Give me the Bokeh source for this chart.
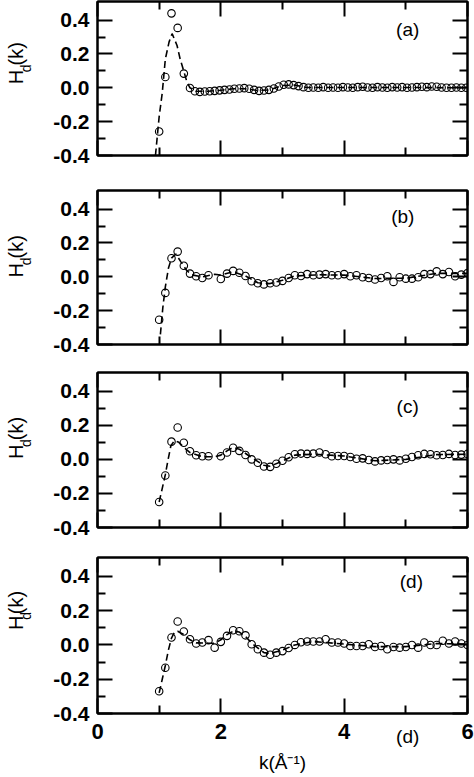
import math
from bokeh.plotting import figure
from bokeh.models import (Range1d, LinearAxis, FixedTicker, Label, NumeralTickFormatter,
                          CustomJSTickFormatter)
from bokeh.layouts import column, row
from bokeh.embed import file_html
from bokeh.resources import INLINE

NAN = float("nan")
FONT = "Liberation Sans"

# ---------------- data ----------------
K_A = [1.0, 1.1, 1.2, 1.3, 1.4, 1.5,
       1.58, 1.66, 1.74, 1.82, 1.90, 1.98, 2.06, 2.14, 2.22, 2.30, 2.38, 2.46, 2.54, 2.62,
       2.70, 2.78, 2.86, 2.94, 3.02, 3.10, 3.18, 3.26, 3.34, 3.42, 3.50, 3.58, 3.66, 3.74,
       3.82, 3.90, 3.98, 4.06, 4.14, 4.22, 4.30, 4.38, 4.46, 4.54, 4.62, 4.70, 4.78, 4.86,
       4.94, 5.02, 5.10, 5.18, 5.26, 5.34, 5.42, 5.50, 5.58, 5.66, 5.74, 5.82, 5.90, 5.98]
H_A = [-0.258, 0.064, 0.44, 0.354, 0.084, -0.001,
       -0.020, -0.024, -0.022, -0.020, -0.018, -0.015, -0.012, -0.010, -0.006, -0.004, -0.002, -0.006, -0.012, -0.018,
       -0.016, -0.012, -0.004, 0.008, 0.018, 0.020, 0.016, 0.010, 0.004, 0.000, 0.002, 0.000, 0.004, 0.000,
       0.002, 0.000, 0.004, 0.002, 0.000, 0.004, 0.006, 0.002, 0.000, 0.004, 0.002, 0.000, 0.004, 0.002,
       0.004, 0.000, 0.002, 0.004, 0.006, 0.004, 0.008, 0.006, 0.002, 0.000, 0.000, 0.002, 0.000, 0.000]

K = [1.0, 1.1, 1.2, 1.3, 1.4, 1.5, 1.6, 1.7, 1.8, 1.9,
     2.0, 2.1, 2.2, 2.3, 2.4, 2.5, 2.6, 2.7, 2.8, 2.9,
     3.0, 3.1, 3.2, 3.3, 3.4, 3.5, 3.6, 3.7, 3.8, 3.9,
     4.0, 4.1, 4.2, 4.3, 4.4, 4.5, 4.6, 4.7, 4.8, 4.9,
     5.0, 5.1, 5.2, 5.3, 5.4, 5.5, 5.6, 5.7, 5.8, 5.9, 6.0]
H_B = [-0.254, -0.095, 0.110, 0.149, 0.065, 0.019, 0.003, -0.007, 0.009, NAN,
       -0.013, 0.019, 0.035, 0.024, 0.005, -0.026, -0.038, -0.045, -0.038, -0.034,
       -0.024, -0.007, 0.009, 0.005, 0.016, 0.009, 0.013, 0.016, 0.009, 0.009,
       0.016, 0.003, 0.009, -0.003, -0.007, -0.016, -0.007, 0.003, -0.030, -0.003,
       -0.011, -0.011, -0.003, 0.016, 0.016, 0.032, 0.016, 0.028, 0.003, 0.013, 0.022]
H_C = [-0.250, -0.095, 0.104, 0.187, 0.098, 0.048, 0.024, 0.018, 0.018, NAN,
       0.018, 0.040, 0.068, 0.050, 0.026, 0.000, -0.020, -0.042, -0.044, -0.026,
       -0.008, 0.012, 0.030, 0.034, 0.032, 0.034, 0.040, 0.030, 0.018, 0.020,
       0.020, 0.014, 0.004, 0.006, -0.004, -0.012, -0.006, -0.004, 0.000, -0.006,
       0.004, 0.014, 0.024, 0.032, 0.030, 0.024, 0.026, 0.032, 0.026, 0.028, 0.032]
H_D = [-0.270, -0.133, 0.043, 0.137, 0.078, 0.033, 0.008, 0.014, 0.028, -0.016,
       0.018, 0.053, 0.086, 0.080, 0.056, 0.004, -0.025, -0.045, -0.057, -0.045,
       -0.036, -0.018, 0.000, 0.016, 0.020, 0.020, 0.020, 0.033, 0.014, 0.014,
       0.008, -0.006, -0.006, -0.006, 0.004, -0.012, -0.006, -0.025, -0.012, -0.016,
       -0.012, 0.000, -0.016, 0.014, 0.000, 0.000, 0.024, 0.008, 0.020, 0.008, 0.000]

# theory (dashed) curves
TA_K = [0.94, 1.0, 1.05, 1.1, 1.16, 1.21, 1.29, 1.34, 1.39, 1.45, 1.5, 1.6, 1.8, 2.0, 2.2, 2.4,
        2.6, 2.8, 3.0, 3.2, 3.4, 3.6, 4.0, 5.0, 6.0]
TA_V = [-0.4, -0.17, -0.03, 0.17, 0.27, 0.32, 0.25, 0.17, 0.11, 0.035, 0.0, -0.02, -0.02, -0.014,
        -0.006, -0.006, -0.016, -0.012, 0.014, 0.016, 0.002, 0.002, 0.002, 0.002, 0.0]
TB_K = [1.02, 1.06, 1.1, 1.15, 1.2, 1.27, 1.35, 1.45, 1.55, 1.7, 1.9, 2.0, 2.2, 2.4, 2.6, 2.8,
        3.0, 3.2, 3.6, 4.0, 4.5, 5.0, 5.5, 6.0]
TB_V = [-0.34, -0.18, -0.06, 0.05, 0.11, 0.135, 0.09, 0.035, 0.01, 0.0, 0.015, 0.01, 0.03, 0.005,
        -0.035, -0.04, -0.02, 0.005, 0.012, 0.01, -0.01, -0.008, 0.02, 0.02]
TC_K = [1.0, 1.05, 1.1, 1.14, 1.19, 1.25, 1.32, 1.4, 1.5, 1.7, 1.9, 2.0, 2.1, 2.2, 2.3, 2.5, 2.7,
        2.8, 3.0, 3.2, 3.5, 4.0, 4.5, 5.0, 5.5, 6.0]
TC_V = [-0.25, -0.17, -0.09, -0.01, 0.08, 0.11, 0.1, 0.07, 0.04, 0.015, 0.015, 0.025, 0.05, 0.07,
        0.06, 0.01, -0.035, -0.04, -0.01, 0.025, 0.03, 0.02, -0.008, 0.0, 0.028, 0.03]
TD_K = [1.0, 1.05, 1.1, 1.15, 1.2, 1.25, 1.3, 1.4, 1.5, 1.6, 1.8, 1.9, 2.0, 2.1, 2.2, 2.3, 2.4,
        2.5, 2.7, 2.8, 3.0, 3.2, 3.5, 4.0, 4.5, 5.0, 5.5, 6.0]
TD_V = [-0.28, -0.2, -0.12, -0.03, 0.04, 0.075, 0.08, 0.06, 0.03, 0.012, 0.01, 0.01, 0.03, 0.06,
        0.08, 0.075, 0.05, 0.01, -0.045, -0.05, -0.03, 0.0, 0.02, 0.005, -0.01, -0.01, 0.008, 0.005]

X_TICKS = [0, 2, 4, 6]
X_MINOR = [1, 3, 5]
Y_TICKS = [-0.4, -0.2, 0.0, 0.2, 0.4]
Y_MINOR = [-0.3, -0.1, 0.1, 0.3]
TAGS = ["(a)", "(b)", "(c)", "(d)"]
BOTTOM_TAG = "(d)"
BOTTOM_TAG_K = 5.03
X_LABEL = "k(Å\u207B\u00B9)"

Y_LO, Y_HI = -0.4, 0.51
LAB_W = 40
MAIN_W = 474 - LAB_W
BLANK = CustomJSTickFormatter(code="return ''")


def style_axis(ax, ticks, minor, show_labels, fmt, size):
    ax.ticker = FixedTicker(ticks=ticks, minor_ticks=minor)
    ax.axis_line_width = 2
    ax.axis_line_color = "black"
    ax.major_tick_line_width = 2
    ax.minor_tick_line_width = 2
    ax.major_tick_line_color = "black"
    ax.minor_tick_line_color = "black"
    ax.major_tick_in = 15
    ax.major_tick_out = 0
    ax.minor_tick_in = 8
    ax.minor_tick_out = 0
    if show_labels:
        ax.formatter = NumeralTickFormatter(format=fmt)
        ax.major_label_text_font = FONT
        ax.major_label_text_font_size = size
        ax.major_label_text_font_style = "bold"
        ax.major_label_text_color = "black"
    else:
        ax.formatter = BLANK
        ax.major_label_standoff = 0


def make_label_fig(height, top, bottom):
    f = figure(width=LAB_W, height=height, x_range=Range1d(0, LAB_W), y_range=Range1d(0, height),
               output_backend="svg", toolbar_location=None, min_border=0,
               x_axis_location=None, y_axis_location=None)
    f.xgrid.visible = False
    f.ygrid.visible = False
    f.outline_line_color = None
    fh = height - top - bottom
    zero_from_top = top + fh * (Y_HI / (Y_HI - Y_LO))
    h_start = height - (zero_from_top + 12.5)
    f.add_layout(Label(x=15, y=h_start, text="H", angle=math.pi / 2, text_font=FONT,
                       text_font_size="20px", text_align="left", text_baseline="alphabetic",
                       text_color="black"))
    f.add_layout(Label(x=25, y=h_start + 14.5, text="d", angle=math.pi / 2, text_font=FONT,
                       text_font_size="14px", text_align="left", text_baseline="alphabetic",
                       text_color="black"))
    f.add_layout(Label(x=15, y=h_start + 22.5, text="(k)", angle=math.pi / 2, text_font=FONT,
                       text_font_size="20px", text_align="left", text_baseline="alphabetic",
                       text_color="black"))
    return f


def make_panel(k, h, tk, tv, tag, tag_x, tag_y, height, top, bottom, last):
    p = figure(width=MAIN_W, height=height, x_range=Range1d(0, 6), y_range=Range1d(Y_LO, Y_HI),
               output_backend="svg", toolbar_location=None,
               min_border_left=97 - LAB_W, min_border_right=7, min_border_top=top,
               min_border_bottom=bottom, x_axis_location=None, y_axis_location=None)
    p.xgrid.visible = False
    p.ygrid.visible = False
    p.outline_line_color = "black"
    p.outline_line_width = 2
    p.background_fill_color = "white"
    p.border_fill_color = "white"

    left = LinearAxis()
    style_axis(left, Y_TICKS, Y_MINOR, True, "0.0", "21px")
    left.major_label_standoff = 8
    right = LinearAxis()
    style_axis(right, Y_TICKS, Y_MINOR, False, "0.0", "0px")
    above = LinearAxis()
    style_axis(above, X_TICKS, X_MINOR, False, "0", "0px")
    below = LinearAxis()
    style_axis(below, X_TICKS, X_MINOR, last, "0", "22px")
    if last:
        below.major_label_standoff = 10
    p.add_layout(left, "left")
    p.add_layout(right, "right")
    p.add_layout(above, "above")
    p.add_layout(below, "below")

    if last:
        extra = LinearAxis()
        extra.ticker = FixedTicker(ticks=[BOTTOM_TAG_K])
        extra.formatter = CustomJSTickFormatter(code="return '%s'" % BOTTOM_TAG)
        extra.axis_line_color = None
        extra.major_tick_line_color = None
        extra.minor_tick_line_color = None
        extra.major_tick_in = 0
        extra.major_tick_out = 0
        extra.minor_tick_in = 0
        extra.minor_tick_out = 0
        extra.major_label_standoff = -16
        extra.major_label_text_font = FONT
        extra.major_label_text_font_size = "19px"
        extra.major_label_text_color = "black"
        extra.axis_label = X_LABEL
        extra.axis_label_text_font = FONT
        extra.axis_label_text_font_size = "19px"
        extra.axis_label_text_font_style = "normal"
        extra.axis_label_text_color = "black"
        extra.axis_label_standoff = 2
        p.add_layout(extra, "below")

    p.line(tk, tv, line_color="black", line_width=1.6, line_dash="7 4")
    p.scatter(k, h, marker="circle", size=7.5, fill_color=None, line_color="black", line_width=1.1)

    p.add_layout(Label(x=tag_x, y=tag_y, text=tag, text_font=FONT, text_font_size="19px",
                       text_align="center", text_baseline="middle", text_color="black"))
    return p


def panel_row(k, h, tk, tv, tag, tag_x, tag_y, height, top, bottom, last=False):
    return row(make_label_fig(height, top, bottom),
               make_panel(k, h, tk, tv, tag, tag_x, tag_y, height, top, bottom, last), spacing=0)


ra = panel_row(K_A, H_A, TA_K, TA_V, TAGS[0], 5.03, 0.344, 186, 1, 31)
rb = panel_row(K, H_B, TB_K, TB_V, TAGS[1], 4.95, 0.354, 182, 4, 24)
rc = panel_row(K, H_C, TC_K, TC_V, TAGS[2], 5.03, 0.31, 185, 4, 26)
rd = panel_row(K, H_D, TD_K, TD_V, TAGS[3], 5.09, 0.368, 224, 4, 64, last=True)

layout = column(ra, rb, rc, rd, spacing=0)
open("out.html", "w").write(file_html(layout, INLINE))
